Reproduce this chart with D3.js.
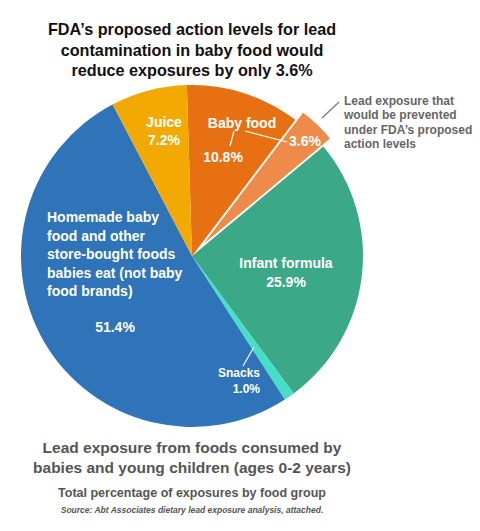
<!DOCTYPE html>
<html>
<head>
<meta charset="utf-8">
<script src="https://cdn.jsdelivr.net/npm/d3@7"></script>
<style>
  body { margin: 0; background: #fff; }
  svg { display: block; font-family: Helvetica, Arial, "Liberation Sans", sans-serif; }
</style>
</head>
<body>
<div id="chart"></div>
<script>
// food groups, clockwise from 12 o'clock
var groups = ["Baby food", "Prevented", "Infant formula", "Snacks", "Homemade", "Juice"];
var shares = [10.8, 3.6, 25.9, 1.0, 51.4, 7.2];
var colors = ["#e77013", "#ee8b4b", "#3ba888", "#45dfc7", "#2f73b8", "#f2a902"];
var exploded = ["Prevented"];

var titleLines = ["FDA\u2019s proposed action levels for lead", "contamination in baby food would", "reduce exposures by only 3.6%"];
var footLines = ["Lead exposure from foods consumed by", "babies and young children (ages 0-2 years)"];
var subTitle = "Total percentage of exposures by food group";
var source = "Source: Abt Associates dietary lead exposure analysis, attached.";
var noteLines = ["Lead exposure that", "would be prevented", "under FDA\u2019s proposed", "action levels"];

var width = 480, height = 531;
var cx = 192, cy = 256, radius = 171;

var svg = d3.select("#chart").append("svg")
    .attr("width", width)
    .attr("height", height);

// title
svg.append("g").selectAll("text")
    .data(titleLines).enter().append("text")
    .attr("x", 192)
    .attr("y", function(d, i){ return 35 + i*20.5; })
    .attr("text-anchor", "middle")
    .style("font-size", "16.2px")
    .style("font-weight", "bold")
    .style("fill", "#111")
    .text(function(d){ return d; });

var pie = d3.pie()
    .sort(null)
    .startAngle(-0.03)
    .endAngle(-0.03 + 2*Math.PI)
    .value(function(d){ return d; });

var arc = d3.arc().innerRadius(0).outerRadius(radius);
var arcs = pie(shares);

var g = svg.append("g").attr("transform", "translate(" + cx + "," + cy + ")");

g.selectAll("path")
    .data(arcs).enter().append("path")
    .attr("d", arc)
    .attr("fill", function(d, i){ return colors[i]; })
    .attr("stroke", function(d, i){ return exploded.indexOf(groups[i]) >= 0 ? "#fff" : "none"; })
    .attr("stroke-width", 1.2)
    .attr("transform", function(d, i){
        if (exploded.indexOf(groups[i]) < 0) return null;
        var mid = (d.startAngle + d.endAngle)/2, off = 11;
        return "translate(" + (Math.sin(mid)*off) + "," + (-Math.cos(mid)*off) + ")";
    });

// white slice labels
function label(lines, x, y, anchor, size, step) {
    svg.append("g").selectAll("text")
        .data(lines).enter().append("text")
        .attr("x", x)
        .attr("y", function(d, i){ return y + i*step; })
        .attr("text-anchor", anchor)
        .style("font-size", size + "px")
        .style("font-weight", "bold")
        .style("fill", "#fff")
        .text(function(d){ return d; });
}
function pct(i){ return shares[i].toFixed(1) + "%"; }

label(["Juice", pct(5)], 164, 127, "middle", 14, 18);
label(["Baby food"], 242, 128, "middle", 14, 18);
label([pct(0)], 223, 162, "middle", 14, 18);
label([pct(1)], 305, 146, "middle", 14, 18);
label(["Infant formula", pct(2)], 286, 268, "middle", 14, 19);
label(["Homemade baby", "food and other", "store-bought foods", "babies eat (not baby", "food brands)"], 47, 222, "start", 14, 18.5);
label([pct(4)], 115, 332, "middle", 14, 18);
label(["Snacks"], 260, 377, "end", 12, 15);
label([pct(3)], 260, 393, "end", 12, 15);

// leader lines
var leaders = [
    [234, 131, 230, 146],
    [245, 131, 287, 142],
    [243, 366, 254, 347]
];
svg.append("g").selectAll("line")
    .data(leaders).enter().append("line")
    .attr("x1", function(d){ return d[0]; })
    .attr("y1", function(d){ return d[1]; })
    .attr("x2", function(d){ return d[2]; })
    .attr("y2", function(d){ return d[3]; })
    .style("stroke", "#fff")
    .style("stroke-width", 1.2);

// annotation for the prevented slice
svg.append("line")
    .attr("x1", 322).attr("y1", 118)
    .attr("x2", 339).attr("y2", 102)
    .style("stroke", "#777")
    .style("stroke-width", 1.2);

svg.append("g").selectAll("text")
    .data(noteLines).enter().append("text")
    .attr("x", 344)
    .attr("y", function(d, i){ return 104.5 + i*14.5; })
    .style("font-size", "12px")
    .style("font-weight", "bold")
    .style("fill", "#666")
    .text(function(d){ return d; });

// footer
svg.append("g").selectAll("text")
    .data(footLines).enter().append("text")
    .attr("x", 192)
    .attr("y", function(d, i){ return 453 + i*19.5; })
    .attr("text-anchor", "middle")
    .style("font-size", "15.5px")
    .style("font-weight", "bold")
    .style("fill", "#555")
    .text(function(d){ return d; });

svg.append("text")
    .attr("x", 192).attr("y", 497)
    .attr("text-anchor", "middle")
    .style("font-size", "12.5px")
    .style("font-weight", "bold")
    .style("fill", "#555")
    .text(subTitle);

svg.append("text")
    .attr("x", 192).attr("y", 513)
    .attr("text-anchor", "middle")
    .style("font-size", "8.5px")
    .style("font-weight", "bold")
    .style("font-style", "italic")
    .style("fill", "#555")
    .text(source);
</script>
</body>
</html>
